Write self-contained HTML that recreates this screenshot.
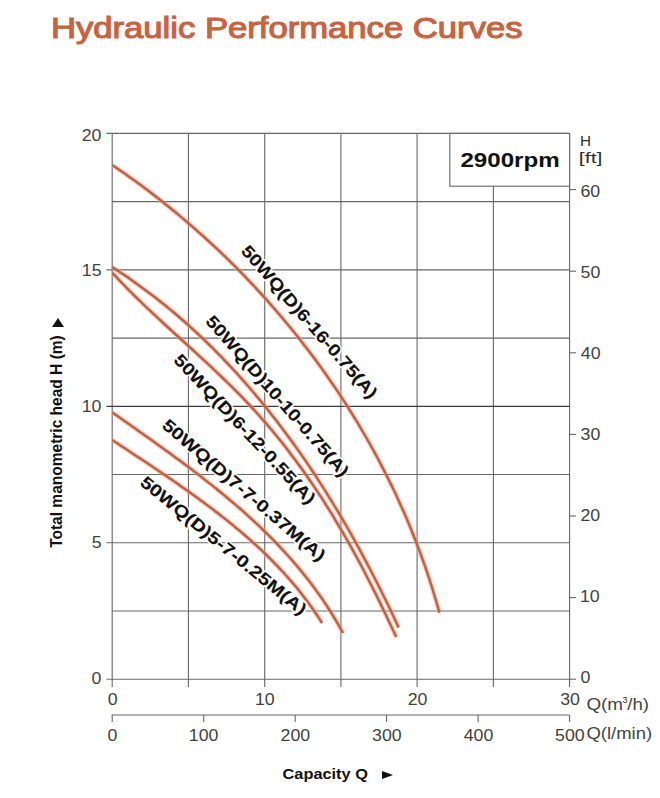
<!DOCTYPE html>
<html><head><meta charset="utf-8"><style>
html,body{margin:0;padding:0;background:#fff;}
body{width:660px;height:798px;overflow:hidden;}
svg{display:block;}
text{font-family:"Liberation Sans",sans-serif;}
.t{font-size:16px;fill:#424242;}
.lab{font-size:17px;font-weight:bold;fill:#111;stroke:#fff;stroke-width:3px;stroke-linejoin:round;}
.lab2{font-size:17px;font-weight:bold;fill:#111;stroke:#111;stroke-width:0.12px;}
</style></head><body>
<svg width="660" height="798" viewBox="0 0 660 798">
<text x="50.96" y="37.8" textLength="471.59" lengthAdjust="spacingAndGlyphs" style="font-size:29.5px;fill:#c9623e;stroke:#c9623e;stroke-width:1.1px;">Hydraulic Performance Curves</text>
<g stroke="#686868" stroke-width="1.1" fill="none">
<line x1="112.2" y1="133.4" x2="112.2" y2="687" />
<line x1="188.4" y1="133.4" x2="188.4" y2="687" />
<line x1="264.7" y1="133.4" x2="264.7" y2="687" />
<line x1="340.9" y1="133.4" x2="340.9" y2="687" />
<line x1="417.1" y1="133.4" x2="417.1" y2="687" />
<line x1="493.4" y1="133.4" x2="493.4" y2="687" />
<line x1="569.6" y1="133.4" x2="569.6" y2="687" />
<line x1="106.5" y1="133.4" x2="569.6" y2="133.4" />
<line x1="112.2" y1="201.6" x2="569.6" y2="201.6" />
<line x1="106.5" y1="269.9" x2="569.6" y2="269.9" />
<line x1="112.2" y1="338.1" x2="569.6" y2="338.1" />
<line x1="106.5" y1="406.3" x2="569.6" y2="406.3" stroke="#3c3c3c" stroke-width="1.2" />
<line x1="112.2" y1="474.5" x2="569.6" y2="474.5" />
<line x1="106.5" y1="542.8" x2="569.6" y2="542.8" />
<line x1="112.2" y1="611.0" x2="569.6" y2="611.0" />
<line x1="106.5" y1="679.2" x2="569.6" y2="679.2" />
<line x1="569.6" y1="679.2" x2="576" y2="679.2" />
<line x1="569.6" y1="597.6" x2="576" y2="597.6" />
<line x1="569.6" y1="516.0" x2="576" y2="516.0" />
<line x1="569.6" y1="434.4" x2="576" y2="434.4" />
<line x1="569.6" y1="352.8" x2="576" y2="352.8" />
<line x1="569.6" y1="271.2" x2="576" y2="271.2" />
<line x1="569.6" y1="189.6" x2="576" y2="189.6" />
<line x1="111.7" y1="715" x2="569.6" y2="715" />
<line x1="112.2" y1="715" x2="112.2" y2="722" />
<line x1="203.7" y1="715" x2="203.7" y2="722" />
<line x1="295.2" y1="715" x2="295.2" y2="722" />
<line x1="386.6" y1="715" x2="386.6" y2="722" />
<line x1="478.1" y1="715" x2="478.1" y2="722" />
<line x1="569.6" y1="715" x2="569.6" y2="722" />
</g>
<rect x="449.8" y="133.4" width="119.8" height="52.8" fill="#fff" stroke="#686868" stroke-width="1.1"/>
<text x="460.46" y="167.4" textLength="99.23" lengthAdjust="spacingAndGlyphs" style="font-size:21px;font-weight:bold;fill:#111;">2900rpm</text>
<text x="580.1" y="146.2" style="font-size:15.3px;fill:#2e2e2e">H</text>
<text x="578.88" y="162.8" textLength="23.63" lengthAdjust="spacingAndGlyphs" style="font-size:15px;fill:#2e2e2e">[ft]</text>
<g fill="none" stroke="#f2a888" stroke-opacity="0.5" stroke-width="5" stroke-linecap="butt" stroke-linejoin="round">
<path d="M112.5,165.2 L118.4,169.2 L124.3,173.3 L130.1,177.4 L135.9,181.6 L141.7,185.8 L147.4,190.1 L153.1,194.5 L158.7,198.8 L164.3,203.3 L169.9,207.8 L175.5,212.3 L181.0,216.9 L186.4,221.5 L191.9,226.2 L197.2,230.9 L202.6,235.7 L207.9,240.5 L213.2,245.3 L218.4,250.2 L223.6,255.2 L228.7,260.2 L233.8,265.2 L238.9,270.3 L243.9,275.4 L248.8,280.6 L253.8,285.8 L258.6,291.1 L263.5,296.4 L268.3,301.7 L273.0,307.1 L277.7,312.5 L282.3,318.0 L286.9,323.5 L291.5,329.0 L296.0,334.6 L300.5,340.2 L304.9,345.9 L309.2,351.5 L313.5,357.3 L317.8,363.0 L322.0,368.9 L326.1,374.7 L330.2,380.6 L334.3,386.5 L338.3,392.4 L342.2,398.4 L346.1,404.4 L350.0,410.5 L353.7,416.6 L357.5,422.7 L361.1,428.8 L364.7,435.0 L368.3,441.2 L371.8,447.5 L375.2,453.7 L378.6,460.0 L381.9,466.4 L385.2,472.8 L388.4,479.1 L391.6,485.6 L394.7,492.0 L397.7,498.5 L400.6,505.0 L403.6,511.6 L406.4,518.1 L409.2,524.7 L411.9,531.3 L414.5,538.0 L417.1,544.7 L419.7,551.4 L422.1,558.1 L424.5,564.8 L426.9,571.6 L429.1,578.4 L431.3,585.2 L433.4,592.0 L435.5,598.9 L437.5,605.8 L439.4,612.7" />
<path d="M112.4,267.3 L117.4,270.6 L122.4,273.8 L127.3,277.1 L132.1,280.5 L137.0,283.9 L141.7,287.4 L146.5,290.9 L151.2,294.4 L155.9,298.0 L160.5,301.7 L165.1,305.3 L169.7,309.1 L174.2,312.8 L178.7,316.7 L183.1,320.5 L187.5,324.4 L191.9,328.4 L196.2,332.3 L200.5,336.4 L204.8,340.4 L209.0,344.5 L213.2,348.7 L217.3,352.8 L221.5,357.0 L225.5,361.3 L229.6,365.6 L233.6,369.9 L237.6,374.2 L241.5,378.6 L245.4,383.0 L249.3,387.5 L253.1,392.0 L256.9,396.5 L260.7,401.0 L264.4,405.6 L268.2,410.2 L271.8,414.9 L275.5,419.5 L279.1,424.2 L282.6,428.9 L286.2,433.7 L289.7,438.4 L293.2,443.2 L296.6,448.1 L300.0,452.9 L303.4,457.8 L306.8,462.6 L310.1,467.6 L313.4,472.5 L316.6,477.4 L319.8,482.4 L323.0,487.4 L326.2,492.4 L329.3,497.5 L332.5,502.5 L335.5,507.6 L338.6,512.7 L341.6,517.8 L344.6,522.9 L347.6,528.0 L350.5,533.1 L353.4,538.3 L356.3,543.5 L359.1,548.7 L361.9,553.8 L364.7,559.1 L367.5,564.3 L370.2,569.5 L372.9,574.7 L375.6,580.0 L378.3,585.2 L380.9,590.5 L383.5,595.8 L386.1,601.0 L388.7,606.3 L391.2,611.6 L393.7,616.9 L396.2,622.2 L398.6,627.5" />
<path d="M112.4,272.9 L116.4,277.2 L120.4,281.4 L124.5,285.6 L128.6,289.8 L132.7,294.0 L136.9,298.1 L141.1,302.2 L145.4,306.3 L149.7,310.3 L154.0,314.4 L158.3,318.4 L162.7,322.5 L167.0,326.5 L171.4,330.5 L175.8,334.5 L180.2,338.5 L184.6,342.5 L189.0,346.5 L193.4,350.5 L197.8,354.6 L202.1,358.6 L206.5,362.6 L210.9,366.7 L215.2,370.8 L219.5,374.8 L223.8,379.0 L228.0,383.1 L232.2,387.2 L236.4,391.4 L240.6,395.6 L244.7,399.9 L248.7,404.1 L252.7,408.4 L256.7,412.8 L260.6,417.2 L264.5,421.6 L268.3,426.0 L272.1,430.5 L275.8,435.0 L279.5,439.5 L283.2,444.1 L286.8,448.7 L290.3,453.4 L293.8,458.0 L297.3,462.7 L300.8,467.5 L304.2,472.2 L307.5,477.0 L310.8,481.8 L314.1,486.6 L317.4,491.5 L320.6,496.4 L323.8,501.3 L326.9,506.3 L330.0,511.2 L333.1,516.2 L336.1,521.3 L339.1,526.3 L342.1,531.4 L345.1,536.5 L348.0,541.6 L350.9,546.7 L353.7,551.9 L356.6,557.1 L359.4,562.3 L362.2,567.5 L364.9,572.7 L367.6,578.0 L370.3,583.3 L373.0,588.6 L375.7,593.9 L378.3,599.2 L380.9,604.6 L383.5,610.0 L386.1,615.3 L388.6,620.7 L391.2,626.2 L393.7,631.6 L396.2,637.0" />
<path d="M112.3,412.4 L115.6,414.7 L118.9,417.1 L122.3,419.4 L125.6,421.8 L128.9,424.1 L132.3,426.5 L135.6,428.8 L138.9,431.2 L142.2,433.5 L145.6,435.9 L148.9,438.2 L152.2,440.6 L155.6,443.0 L158.9,445.4 L162.2,447.8 L165.5,450.2 L168.8,452.6 L172.1,455.0 L175.4,457.4 L178.7,459.8 L182.0,462.2 L185.3,464.7 L188.5,467.1 L191.8,469.6 L195.0,472.1 L198.3,474.6 L201.5,477.0 L204.7,479.6 L207.9,482.1 L211.1,484.6 L214.3,487.1 L217.5,489.7 L220.6,492.3 L223.8,494.9 L226.9,497.5 L230.0,500.1 L233.1,502.7 L236.2,505.4 L239.3,508.0 L242.4,510.7 L245.4,513.4 L248.4,516.1 L251.4,518.9 L254.4,521.6 L257.4,524.4 L260.3,527.2 L263.2,530.0 L266.1,532.8 L269.0,535.7 L271.9,538.6 L274.7,541.4 L277.5,544.4 L280.3,547.3 L283.1,550.3 L285.8,553.3 L288.5,556.3 L291.2,559.3 L293.9,562.4 L296.5,565.4 L299.1,568.6 L301.7,571.7 L304.3,574.9 L306.8,578.0 L309.3,581.3 L311.8,584.5 L314.2,587.8 L316.6,591.1 L319.0,594.4 L321.4,597.8 L323.7,601.1 L326.0,604.6 L328.2,608.0 L330.4,611.5 L332.6,615.0 L334.7,618.5 L336.9,622.1 L338.9,625.7 L341.0,629.4 L343.0,633.0" />
<path d="M112.3,440.0 L115.2,442.0 L118.2,443.9 L121.1,445.9 L124.1,447.8 L127.0,449.8 L130.0,451.7 L132.9,453.7 L135.9,455.7 L138.9,457.6 L141.8,459.6 L144.8,461.6 L147.8,463.6 L150.7,465.5 L153.7,467.5 L156.6,469.5 L159.6,471.5 L162.5,473.5 L165.5,475.5 L168.4,477.5 L171.4,479.6 L174.3,481.6 L177.3,483.6 L180.2,485.7 L183.1,487.7 L186.0,489.8 L189.0,491.8 L191.9,493.9 L194.8,496.0 L197.7,498.1 L200.5,500.2 L203.4,502.3 L206.3,504.4 L209.1,506.6 L212.0,508.7 L214.8,510.9 L217.6,513.0 L220.4,515.2 L223.2,517.4 L226.0,519.6 L228.8,521.9 L231.6,524.1 L234.3,526.4 L237.0,528.6 L239.8,530.9 L242.5,533.2 L245.1,535.5 L247.8,537.8 L250.5,540.2 L253.1,542.6 L255.7,544.9 L258.3,547.3 L260.9,549.7 L263.5,552.2 L266.0,554.6 L268.6,557.1 L271.1,559.6 L273.5,562.1 L276.0,564.6 L278.4,567.2 L280.9,569.8 L283.3,572.3 L285.6,575.0 L288.0,577.6 L290.3,580.2 L292.6,582.9 L294.9,585.6 L297.2,588.3 L299.4,591.1 L301.6,593.9 L303.8,596.7 L305.9,599.5 L308.0,602.3 L310.1,605.2 L312.2,608.1 L314.2,611.0 L316.2,614.0 L318.2,616.9 L320.1,619.9 L322.1,623.0" />
</g>
<g fill="none" stroke="#bf6046" stroke-width="2.45" stroke-linecap="butt" stroke-linejoin="round">
<path d="M112.5,165.2 L118.4,169.2 L124.3,173.3 L130.1,177.4 L135.9,181.6 L141.7,185.8 L147.4,190.1 L153.1,194.5 L158.7,198.8 L164.3,203.3 L169.9,207.8 L175.5,212.3 L181.0,216.9 L186.4,221.5 L191.9,226.2 L197.2,230.9 L202.6,235.7 L207.9,240.5 L213.2,245.3 L218.4,250.2 L223.6,255.2 L228.7,260.2 L233.8,265.2 L238.9,270.3 L243.9,275.4 L248.8,280.6 L253.8,285.8 L258.6,291.1 L263.5,296.4 L268.3,301.7 L273.0,307.1 L277.7,312.5 L282.3,318.0 L286.9,323.5 L291.5,329.0 L296.0,334.6 L300.5,340.2 L304.9,345.9 L309.2,351.5 L313.5,357.3 L317.8,363.0 L322.0,368.9 L326.1,374.7 L330.2,380.6 L334.3,386.5 L338.3,392.4 L342.2,398.4 L346.1,404.4 L350.0,410.5 L353.7,416.6 L357.5,422.7 L361.1,428.8 L364.7,435.0 L368.3,441.2 L371.8,447.5 L375.2,453.7 L378.6,460.0 L381.9,466.4 L385.2,472.8 L388.4,479.1 L391.6,485.6 L394.7,492.0 L397.7,498.5 L400.6,505.0 L403.6,511.6 L406.4,518.1 L409.2,524.7 L411.9,531.3 L414.5,538.0 L417.1,544.7 L419.7,551.4 L422.1,558.1 L424.5,564.8 L426.9,571.6 L429.1,578.4 L431.3,585.2 L433.4,592.0 L435.5,598.9 L437.5,605.8 L439.4,612.7" />
<path d="M112.4,267.3 L117.4,270.6 L122.4,273.8 L127.3,277.1 L132.1,280.5 L137.0,283.9 L141.7,287.4 L146.5,290.9 L151.2,294.4 L155.9,298.0 L160.5,301.7 L165.1,305.3 L169.7,309.1 L174.2,312.8 L178.7,316.7 L183.1,320.5 L187.5,324.4 L191.9,328.4 L196.2,332.3 L200.5,336.4 L204.8,340.4 L209.0,344.5 L213.2,348.7 L217.3,352.8 L221.5,357.0 L225.5,361.3 L229.6,365.6 L233.6,369.9 L237.6,374.2 L241.5,378.6 L245.4,383.0 L249.3,387.5 L253.1,392.0 L256.9,396.5 L260.7,401.0 L264.4,405.6 L268.2,410.2 L271.8,414.9 L275.5,419.5 L279.1,424.2 L282.6,428.9 L286.2,433.7 L289.7,438.4 L293.2,443.2 L296.6,448.1 L300.0,452.9 L303.4,457.8 L306.8,462.6 L310.1,467.6 L313.4,472.5 L316.6,477.4 L319.8,482.4 L323.0,487.4 L326.2,492.4 L329.3,497.5 L332.5,502.5 L335.5,507.6 L338.6,512.7 L341.6,517.8 L344.6,522.9 L347.6,528.0 L350.5,533.1 L353.4,538.3 L356.3,543.5 L359.1,548.7 L361.9,553.8 L364.7,559.1 L367.5,564.3 L370.2,569.5 L372.9,574.7 L375.6,580.0 L378.3,585.2 L380.9,590.5 L383.5,595.8 L386.1,601.0 L388.7,606.3 L391.2,611.6 L393.7,616.9 L396.2,622.2 L398.6,627.5" />
<path d="M112.4,272.9 L116.4,277.2 L120.4,281.4 L124.5,285.6 L128.6,289.8 L132.7,294.0 L136.9,298.1 L141.1,302.2 L145.4,306.3 L149.7,310.3 L154.0,314.4 L158.3,318.4 L162.7,322.5 L167.0,326.5 L171.4,330.5 L175.8,334.5 L180.2,338.5 L184.6,342.5 L189.0,346.5 L193.4,350.5 L197.8,354.6 L202.1,358.6 L206.5,362.6 L210.9,366.7 L215.2,370.8 L219.5,374.8 L223.8,379.0 L228.0,383.1 L232.2,387.2 L236.4,391.4 L240.6,395.6 L244.7,399.9 L248.7,404.1 L252.7,408.4 L256.7,412.8 L260.6,417.2 L264.5,421.6 L268.3,426.0 L272.1,430.5 L275.8,435.0 L279.5,439.5 L283.2,444.1 L286.8,448.7 L290.3,453.4 L293.8,458.0 L297.3,462.7 L300.8,467.5 L304.2,472.2 L307.5,477.0 L310.8,481.8 L314.1,486.6 L317.4,491.5 L320.6,496.4 L323.8,501.3 L326.9,506.3 L330.0,511.2 L333.1,516.2 L336.1,521.3 L339.1,526.3 L342.1,531.4 L345.1,536.5 L348.0,541.6 L350.9,546.7 L353.7,551.9 L356.6,557.1 L359.4,562.3 L362.2,567.5 L364.9,572.7 L367.6,578.0 L370.3,583.3 L373.0,588.6 L375.7,593.9 L378.3,599.2 L380.9,604.6 L383.5,610.0 L386.1,615.3 L388.6,620.7 L391.2,626.2 L393.7,631.6 L396.2,637.0" />
<path d="M112.3,412.4 L115.6,414.7 L118.9,417.1 L122.3,419.4 L125.6,421.8 L128.9,424.1 L132.3,426.5 L135.6,428.8 L138.9,431.2 L142.2,433.5 L145.6,435.9 L148.9,438.2 L152.2,440.6 L155.6,443.0 L158.9,445.4 L162.2,447.8 L165.5,450.2 L168.8,452.6 L172.1,455.0 L175.4,457.4 L178.7,459.8 L182.0,462.2 L185.3,464.7 L188.5,467.1 L191.8,469.6 L195.0,472.1 L198.3,474.6 L201.5,477.0 L204.7,479.6 L207.9,482.1 L211.1,484.6 L214.3,487.1 L217.5,489.7 L220.6,492.3 L223.8,494.9 L226.9,497.5 L230.0,500.1 L233.1,502.7 L236.2,505.4 L239.3,508.0 L242.4,510.7 L245.4,513.4 L248.4,516.1 L251.4,518.9 L254.4,521.6 L257.4,524.4 L260.3,527.2 L263.2,530.0 L266.1,532.8 L269.0,535.7 L271.9,538.6 L274.7,541.4 L277.5,544.4 L280.3,547.3 L283.1,550.3 L285.8,553.3 L288.5,556.3 L291.2,559.3 L293.9,562.4 L296.5,565.4 L299.1,568.6 L301.7,571.7 L304.3,574.9 L306.8,578.0 L309.3,581.3 L311.8,584.5 L314.2,587.8 L316.6,591.1 L319.0,594.4 L321.4,597.8 L323.7,601.1 L326.0,604.6 L328.2,608.0 L330.4,611.5 L332.6,615.0 L334.7,618.5 L336.9,622.1 L338.9,625.7 L341.0,629.4 L343.0,633.0" />
<path d="M112.3,440.0 L115.2,442.0 L118.2,443.9 L121.1,445.9 L124.1,447.8 L127.0,449.8 L130.0,451.7 L132.9,453.7 L135.9,455.7 L138.9,457.6 L141.8,459.6 L144.8,461.6 L147.8,463.6 L150.7,465.5 L153.7,467.5 L156.6,469.5 L159.6,471.5 L162.5,473.5 L165.5,475.5 L168.4,477.5 L171.4,479.6 L174.3,481.6 L177.3,483.6 L180.2,485.7 L183.1,487.7 L186.0,489.8 L189.0,491.8 L191.9,493.9 L194.8,496.0 L197.7,498.1 L200.5,500.2 L203.4,502.3 L206.3,504.4 L209.1,506.6 L212.0,508.7 L214.8,510.9 L217.6,513.0 L220.4,515.2 L223.2,517.4 L226.0,519.6 L228.8,521.9 L231.6,524.1 L234.3,526.4 L237.0,528.6 L239.8,530.9 L242.5,533.2 L245.1,535.5 L247.8,537.8 L250.5,540.2 L253.1,542.6 L255.7,544.9 L258.3,547.3 L260.9,549.7 L263.5,552.2 L266.0,554.6 L268.6,557.1 L271.1,559.6 L273.5,562.1 L276.0,564.6 L278.4,567.2 L280.9,569.8 L283.3,572.3 L285.6,575.0 L288.0,577.6 L290.3,580.2 L292.6,582.9 L294.9,585.6 L297.2,588.3 L299.4,591.1 L301.6,593.9 L303.8,596.7 L305.9,599.5 L308.0,602.3 L310.1,605.2 L312.2,608.1 L314.2,611.0 L316.2,614.0 L318.2,616.9 L320.1,619.9 L322.1,623.0" />
</g>
<text transform="translate(240.18,251.41) rotate(48.84)" textLength="197.18" lengthAdjust="spacingAndGlyphs" class="lab">50WQ(D)6-16-0.75(A)</text>
<text transform="translate(204.79,321.72) rotate(48.82)" textLength="207.57" lengthAdjust="spacingAndGlyphs" class="lab">50WQ(D)10-10-0.75(A)</text>
<text transform="translate(172.86,360.76) rotate(46.89)" textLength="198.04" lengthAdjust="spacingAndGlyphs" class="lab">50WQ(D)6-12-0.55(A)</text>
<text transform="translate(160.89,426.98) rotate(40.43)" textLength="208.41" lengthAdjust="spacingAndGlyphs" class="lab">50WQ(D)7-7-0.37M(A)</text>
<text transform="translate(138.90,484.15) rotate(39.17)" textLength="208.82" lengthAdjust="spacingAndGlyphs" class="lab">50WQ(D)5-7-0.25M(A)</text>
<text transform="translate(240.18,251.41) rotate(48.84)" textLength="197.18" lengthAdjust="spacingAndGlyphs" class="lab2">50WQ(D)6-16-0.75(A)</text>
<text transform="translate(204.79,321.72) rotate(48.82)" textLength="207.57" lengthAdjust="spacingAndGlyphs" class="lab2">50WQ(D)10-10-0.75(A)</text>
<text transform="translate(172.86,360.76) rotate(46.89)" textLength="198.04" lengthAdjust="spacingAndGlyphs" class="lab2">50WQ(D)6-12-0.55(A)</text>
<text transform="translate(160.89,426.98) rotate(40.43)" textLength="208.41" lengthAdjust="spacingAndGlyphs" class="lab2">50WQ(D)7-7-0.37M(A)</text>
<text transform="translate(138.90,484.15) rotate(39.17)" textLength="208.82" lengthAdjust="spacingAndGlyphs" class="lab2">50WQ(D)5-7-0.25M(A)</text>
<text x="81.74" y="140.5" textLength="19.75" lengthAdjust="spacingAndGlyphs" class="t">20</text>
<text x="81.79" y="276.3" textLength="19.75" lengthAdjust="spacingAndGlyphs" class="t">15</text>
<text x="81.74" y="412.1" textLength="19.75" lengthAdjust="spacingAndGlyphs" class="t">10</text>
<text x="91.67" y="547.9" textLength="9.88" lengthAdjust="spacingAndGlyphs" class="t">5</text>
<text x="91.62" y="683.7" textLength="9.88" lengthAdjust="spacingAndGlyphs" class="t">0</text>
<text x="580.61" y="683.1" textLength="9.88" lengthAdjust="spacingAndGlyphs" class="t">0</text>
<text x="579.95" y="602.1" textLength="19.75" lengthAdjust="spacingAndGlyphs" class="t">10</text>
<text x="580.41" y="521.1" textLength="19.75" lengthAdjust="spacingAndGlyphs" class="t">20</text>
<text x="580.62" y="440.1" textLength="19.75" lengthAdjust="spacingAndGlyphs" class="t">30</text>
<text x="580.89" y="359.1" textLength="19.75" lengthAdjust="spacingAndGlyphs" class="t">40</text>
<text x="580.59" y="278.1" textLength="19.75" lengthAdjust="spacingAndGlyphs" class="t">50</text>
<text x="580.40" y="197.1" textLength="19.75" lengthAdjust="spacingAndGlyphs" class="t">60</text>
<text x="107.76" y="705.0" textLength="9.88" lengthAdjust="spacingAndGlyphs" class="t">0</text>
<text x="254.96" y="705.0" textLength="19.75" lengthAdjust="spacingAndGlyphs" class="t">10</text>
<text x="407.66" y="705.0" textLength="19.75" lengthAdjust="spacingAndGlyphs" class="t">20</text>
<text x="560.23" y="705.0" textLength="19.75" lengthAdjust="spacingAndGlyphs" class="t">30</text>
<text x="107.56" y="740.6" textLength="9.88" lengthAdjust="spacingAndGlyphs" class="t">0</text>
<text x="188.83" y="740.6" textLength="29.63" lengthAdjust="spacingAndGlyphs" class="t">100</text>
<text x="280.54" y="740.6" textLength="29.63" lengthAdjust="spacingAndGlyphs" class="t">200</text>
<text x="372.13" y="740.6" textLength="29.63" lengthAdjust="spacingAndGlyphs" class="t">300</text>
<text x="463.75" y="740.6" textLength="29.63" lengthAdjust="spacingAndGlyphs" class="t">400</text>
<text x="555.08" y="740.6" textLength="29.63" lengthAdjust="spacingAndGlyphs" class="t">500</text>
<text x="586.41" y="709.5" textLength="36.63" lengthAdjust="spacingAndGlyphs" class="t">Q(m</text>
<text x="622.6" y="702.5" style="font-size:9px;fill:#2e2e2e">3</text>
<text x="627.30" y="709.5" textLength="21.76" lengthAdjust="spacingAndGlyphs" class="t">/h)</text>
<text x="586.42" y="739.3" textLength="65.72" lengthAdjust="spacingAndGlyphs" class="t">Q(l/min)</text>
<text transform="translate(61.6,547.87) rotate(-90)" textLength="212.64" lengthAdjust="spacingAndGlyphs" style="font-size:17px;font-weight:bold;fill:#111;">Total manometric head H (m)</text>
<polygon points="52,327 64,327 58,318" fill="#111"/>
<text x="282.53" y="779.3" textLength="85.36" lengthAdjust="spacingAndGlyphs" style="font-size:15px;font-weight:bold;fill:#111;">Capacity Q</text>
<polygon points="382,771 382,779 393,775" fill="#111"/>
</svg>
</body></html>
